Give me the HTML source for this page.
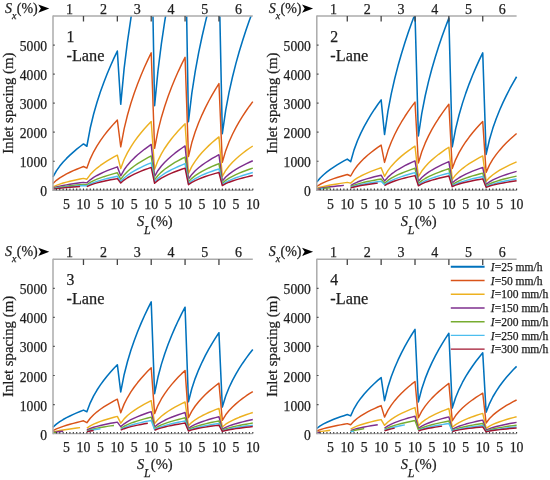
<!DOCTYPE html>
<html><head><meta charset="utf-8"><title>Inlet spacing</title>
<style>
html,body{margin:0;padding:0;background:#fff;}
body{width:550px;height:480px;overflow:hidden;font-family:"Liberation Serif",serif;}
svg{display:block;filter:blur(0.3px);}
text{font-family:"Liberation Serif",serif;stroke:#1e1e1e;stroke-width:0.25px;}
</style></head><body>
<svg width="550" height="480" viewBox="0 0 550 480" font-family="Liberation Serif, serif" fill="#1e1e1e">
<clipPath id="c0"><rect x="51" y="16" width="203.8" height="176.3"/></clipPath>
<g clip-path="url(#c0)" fill="none" stroke-linejoin="round" stroke-linecap="butt">
<path d="M53 176.94 L56.39 170.87 L59.77 166.11 L63.16 162.04 L66.55 158.42 L69.93 155.12 L73.32 152.06 L76.71 149.2 L80.09 146.5 L83.48 143.94 L86.86 146.26 L90.25 128.02 L93.64 114.02 L97.02 102.22 L100.41 91.82 L103.8 82.42 L107.18 73.78 L110.57 65.74 L113.96 58.18 L117.34 51.03 L120.73 104.31 L124.12 68.69 L127.5 41.36 L130.89 18.32 L134.27 -1.98 L137.66 -20.33 L141.05 -37.2 L144.43 -52.91 L147.82 -67.66 L151.21 -81.62 L154.59 105.76 L157.98 70.75 L161.37 43.88 L164.75 21.23 L168.14 1.27 L171.53 -16.77 L174.91 -33.36 L178.3 -48.8 L181.68 -63.31 L185.07 -77.02 L188.46 121.63 L191.84 93.18 L195.23 71.35 L198.62 52.95 L202 36.74 L205.39 22.08 L208.78 8.61 L212.16 -3.94 L215.55 -15.72 L218.94 -26.87 L222.32 133.65 L225.71 110.19 L229.09 92.18 L232.48 77 L235.87 63.63 L239.25 51.54 L242.64 40.42 L246.03 30.08 L249.41 20.36 L252.8 11.16" stroke="#0072BD" stroke-width="1.55"/>
<path d="M53 183.44 L56.39 180.33 L59.77 177.89 L63.16 175.8 L66.55 173.94 L69.93 172.25 L73.32 170.68 L76.71 169.21 L80.09 167.82 L83.48 166.51 L86.86 168.08 L90.25 158.87 L93.64 151.81 L97.02 145.85 L100.41 140.61 L103.8 135.86 L107.18 131.5 L110.57 127.44 L113.96 123.63 L117.34 120.02 L120.73 146.81 L124.12 128.8 L127.5 114.98 L130.89 103.32 L134.27 93.06 L137.66 83.78 L141.05 75.24 L144.43 67.3 L147.82 59.84 L151.21 52.78 L154.59 148.24 L157.98 130.81 L161.37 117.44 L164.75 106.17 L168.14 96.24 L171.53 87.26 L174.91 79.01 L178.3 71.32 L181.68 64.11 L185.07 57.28 L188.46 156.54 L191.84 142.56 L195.23 131.83 L198.62 122.79 L202 114.82 L205.39 107.61 L208.78 100.99 L212.16 94.82 L215.55 89.03 L218.94 83.55 L222.32 162.27 L225.71 150.65 L229.09 141.74 L232.48 134.23 L235.87 127.62 L239.25 121.63 L242.64 116.13 L246.03 111.01 L249.41 106.2 L252.8 101.65" stroke="#D95319" stroke-width="1.45"/>
<path d="M53 186.87 L56.39 185.31 L59.77 184.09 L63.16 183.05 L66.55 182.12 L69.93 181.27 L73.32 180.49 L76.71 179.76 L80.09 179.06 L83.48 178.4 L86.86 179.19 L90.25 174.59 L93.64 171.05 L97.02 168.08 L100.41 165.45 L103.8 163.08 L107.18 160.9 L110.57 158.87 L113.96 156.97 L117.34 155.16 L120.73 168.56 L124.12 159.55 L127.5 152.64 L130.89 146.81 L134.27 141.68 L137.66 137.04 L141.05 132.77 L144.43 128.8 L147.82 125.07 L151.21 121.54 L154.59 169.27 L157.98 160.56 L161.37 153.87 L164.75 148.24 L168.14 143.27 L171.53 138.78 L174.91 134.65 L178.3 130.81 L181.68 127.2 L185.07 123.79 L188.46 173.42 L191.84 166.43 L195.23 161.07 L198.62 156.54 L202 152.56 L205.39 148.96 L208.78 145.64 L212.16 142.56 L215.55 139.67 L218.94 136.93 L222.32 176.28 L225.71 170.48 L229.09 166.02 L232.48 162.27 L235.87 158.96 L239.25 155.97 L242.64 153.22 L246.03 150.65 L249.41 148.25 L252.8 145.98" stroke="#EDB120" stroke-width="1.45"/>
<path d="M53 188.01 L56.39 186.98 L59.77 186.16 L63.16 185.47 L66.55 184.85 L69.93 184.28 L73.32 183.76 L76.71 183.27 L80.09 182.81 L83.48 182.37 L86.86 182.89 L90.25 179.82 L93.64 177.47 L97.02 175.48 L100.41 173.74 L103.8 172.15 L107.18 170.7 L110.57 169.35 L113.96 168.08 L117.34 166.87 L120.73 175.8 L124.12 169.8 L127.5 165.19 L130.89 161.31 L134.27 157.89 L137.66 154.79 L141.05 151.95 L144.43 149.3 L147.82 146.81 L151.21 144.46 L154.59 176.28 L157.98 170.47 L161.37 166.01 L164.75 162.26 L168.14 158.95 L171.53 155.95 L174.91 153.2 L178.3 150.64 L181.68 148.24 L185.07 145.96 L188.46 179.05 L191.84 174.39 L195.23 170.81 L198.62 167.8 L202 165.14 L205.39 162.74 L208.78 160.53 L212.16 158.47 L215.55 156.54 L218.94 154.72 L222.32 180.96 L225.71 177.08 L229.09 174.11 L232.48 171.61 L235.87 169.41 L239.25 167.41 L242.64 165.58 L246.03 163.87 L249.41 162.27 L252.8 160.75" stroke="#7E2F8E" stroke-width="1.45"/>
<path d="M53 188.59 L56.39 187.81 L59.77 187.2 L63.16 186.67 L66.55 186.21 L69.93 185.79 L73.32 185.39 L76.71 185.03 L80.09 184.68 L83.48 184.35 L86.86 184.74 L90.25 182.44 L93.64 180.68 L97.02 179.19 L100.41 177.88 L103.8 176.69 L107.18 175.6 L110.57 174.59 L113.96 173.63 L117.34 172.73 L120.73 179.43 L124.12 174.92 L127.5 171.47 L130.89 168.56 L134.27 165.99 L137.66 163.67 L141.05 161.54 L144.43 159.55 L147.82 157.68 L151.21 155.92 L154.59 179.78 L157.98 175.43 L161.37 172.09 L164.75 169.27 L168.14 166.79 L171.53 164.54 L174.91 162.48 L178.3 160.56 L181.68 158.75 L185.07 157.05 L188.46 181.86 L191.84 178.37 L195.23 175.68 L198.62 173.42 L202 171.43 L205.39 169.63 L208.78 167.97 L212.16 166.43 L215.55 164.98 L218.94 163.61 L222.32 183.29 L225.71 180.39 L229.09 178.16 L232.48 176.28 L235.87 174.63 L239.25 173.13 L242.64 171.76 L246.03 170.48 L249.41 169.28 L252.8 168.14" stroke="#77AC30" stroke-width="1.45"/>
<path d="M53 188.93 L56.39 188.31 L59.77 187.82 L63.16 187.4 L66.55 187.03 L69.93 186.69 L73.32 186.38 L76.71 186.08 L80.09 185.8 L83.48 185.54 L86.86 185.86 L90.25 184.01 L93.64 182.6 L97.02 181.41 L100.41 180.36 L103.8 179.41 L107.18 178.54 L110.57 177.73 L113.96 176.97 L117.34 176.24 L120.73 181.6 L124.12 178 L127.5 175.24 L130.89 172.9 L134.27 170.85 L137.66 169 L141.05 167.29 L144.43 165.7 L147.82 164.21 L151.21 162.8 L154.59 181.89 L157.98 178.4 L161.37 175.73 L164.75 173.47 L168.14 171.49 L171.53 169.69 L174.91 168.04 L178.3 166.5 L181.68 165.06 L185.07 163.7 L188.46 183.55 L191.84 180.75 L195.23 178.61 L198.62 176.8 L202 175.2 L205.39 173.76 L208.78 172.44 L212.16 171.2 L215.55 170.05 L218.94 168.95 L222.32 184.69 L225.71 182.37 L229.09 180.59 L232.48 179.09 L235.87 177.76 L239.25 176.57 L242.64 175.47 L246.03 174.44 L249.41 173.48 L252.8 172.57" stroke="#4DBEEE" stroke-width="1.45"/>
<path d="M53 189.16 L56.39 188.64 L59.77 188.23 L63.16 187.88 L66.55 187.57 L69.93 187.29 L73.32 187.03 L76.71 186.79 L80.09 186.55M86.86 186.6 L90.25 185.06 L93.64 183.88 L97.02 182.89 L100.41 182.02 L103.8 181.23 L107.18 180.5 L110.57 179.82 L113.96 179.19 L117.34 178.59 L120.73 183.05 L124.12 180.05 L127.5 177.75 L130.89 175.8 L134.27 174.09 L137.66 172.55 L141.05 171.12 L144.43 169.8 L147.82 168.56 L151.21 167.38 L154.59 183.29 L157.98 180.39 L161.37 178.16 L164.75 176.28 L168.14 174.62 L171.53 173.13 L174.91 171.75 L178.3 170.47 L181.68 169.27 L185.07 168.13 L188.46 184.67 L191.84 182.34 L195.23 180.56 L198.62 179.05 L202 177.72 L205.39 176.52 L208.78 175.41 L212.16 174.39 L215.55 173.42 L218.94 172.51 L222.32 185.63 L225.71 183.69 L229.09 182.21 L232.48 180.96 L235.87 179.85 L239.25 178.86 L242.64 177.94 L246.03 177.08 L249.41 176.28 L252.8 175.53" stroke="#A2142F" stroke-width="1.45"/>
</g>
<path d="M53 15.4 V190.9" stroke="#ababab" stroke-width="1.5" fill="none"/>
<path d="M53 190.3 H252.8" stroke="#ababab" stroke-width="1.4" fill="none"/>
<path d="M53 16 H252.8" stroke="#ababab" stroke-width="1.4" fill="none"/>
<path d="M56.39 190.3V188.6M59.77 190.3V188.6M63.16 190.3V188.6M66.55 190.3V188.6M69.93 190.3V188.6M73.32 190.3V188.6M76.71 190.3V188.6M80.09 190.3V188.6M83.48 190.3V188.6M86.86 190.3V188.6M90.25 190.3V188.6M93.64 190.3V188.6M97.02 190.3V188.6M100.41 190.3V188.6M103.8 190.3V188.6M107.18 190.3V188.6M110.57 190.3V188.6M113.96 190.3V188.6M117.34 190.3V188.6M120.73 190.3V188.6M124.12 190.3V188.6M127.5 190.3V188.6M130.89 190.3V188.6M134.27 190.3V188.6M137.66 190.3V188.6M141.05 190.3V188.6M144.43 190.3V188.6M147.82 190.3V188.6M151.21 190.3V188.6M154.59 190.3V188.6M157.98 190.3V188.6M161.37 190.3V188.6M164.75 190.3V188.6M168.14 190.3V188.6M171.53 190.3V188.6M174.91 190.3V188.6M178.3 190.3V188.6M181.68 190.3V188.6M185.07 190.3V188.6M188.46 190.3V188.6M191.84 190.3V188.6M195.23 190.3V188.6M198.62 190.3V188.6M202 190.3V188.6M205.39 190.3V188.6M208.78 190.3V188.6M212.16 190.3V188.6M215.55 190.3V188.6M218.94 190.3V188.6M222.32 190.3V188.6M225.71 190.3V188.6M229.09 190.3V188.6M232.48 190.3V188.6M235.87 190.3V188.6M239.25 190.3V188.6M242.64 190.3V188.6M246.03 190.3V188.6M249.41 190.3V188.6M252.8 190.3V188.6" stroke="#333" stroke-width="1.1" fill="none"/>
<path d="M83.48 16V21.6M117.34 16V21.6M151.21 16V21.6M185.07 16V21.6M218.94 16V21.6" stroke="#444" stroke-width="1.3" fill="none"/>
<path d="M53 161.25H54.8M53 132.2H54.8M53 103.15H54.8M53 74.1H54.8M53 45.05H54.8" stroke="#555" stroke-width="1.2" fill="none"/>
<text x="47" y="196.3" text-anchor="end" font-size="13.6">0</text>
<text x="47" y="167.25" text-anchor="end" font-size="13.6">1000</text>
<text x="47" y="138.2" text-anchor="end" font-size="13.6">2000</text>
<text x="47" y="109.15" text-anchor="end" font-size="13.6">3000</text>
<text x="47" y="80.1" text-anchor="end" font-size="13.6">4000</text>
<text x="47" y="51.05" text-anchor="end" font-size="13.6">5000</text>
<text x="66.55" y="208.8" text-anchor="middle" font-size="13.8">5</text>
<text x="83.48" y="208.8" text-anchor="middle" font-size="13.8">10</text>
<text x="100.41" y="208.8" text-anchor="middle" font-size="13.8">5</text>
<text x="117.34" y="208.8" text-anchor="middle" font-size="13.8">10</text>
<text x="134.27" y="208.8" text-anchor="middle" font-size="13.8">5</text>
<text x="151.21" y="208.8" text-anchor="middle" font-size="13.8">10</text>
<text x="168.14" y="208.8" text-anchor="middle" font-size="13.8">5</text>
<text x="185.07" y="208.8" text-anchor="middle" font-size="13.8">10</text>
<text x="202" y="208.8" text-anchor="middle" font-size="13.8">5</text>
<text x="218.94" y="208.8" text-anchor="middle" font-size="13.8">10</text>
<text x="235.87" y="208.8" text-anchor="middle" font-size="13.8">5</text>
<text x="252.8" y="208.8" text-anchor="middle" font-size="13.8">10</text>
<text x="69.6" y="13.6" text-anchor="middle" font-size="14">1</text>
<text x="103.38" y="13.6" text-anchor="middle" font-size="14">2</text>
<text x="137.16" y="13.6" text-anchor="middle" font-size="14">3</text>
<text x="170.94" y="13.6" text-anchor="middle" font-size="14">4</text>
<text x="204.72" y="13.6" text-anchor="middle" font-size="14">5</text>
<text x="238.5" y="13.6" text-anchor="middle" font-size="14">6</text>
<text x="5" y="12.5" font-size="14"><tspan font-style="italic">S</tspan><tspan font-style="italic" font-size="10" dy="6.4">x</tspan><tspan dy="-6.4" dx="0.3">(%)</tspan></text>
<path d="M38.2 4.5L49.3 8.5L38.2 12.7L40.9 8.5Z" fill="#000"/>
<text transform="translate(13.2 103.15) rotate(-90)" text-anchor="middle" font-size="14.8">Inlet spacing (m)</text>
<text x="136.9" y="225.6" font-size="14.3"><tspan font-style="italic">S</tspan><tspan font-style="italic" font-size="12" dy="7.9">L</tspan><tspan dy="-7.9" dx="0.1" font-size="14.6">(%)</tspan></text>
<text x="66.5" y="41.9" font-size="15.8">1</text>
<text x="66.5" y="60.7" font-size="16.3">-Lane</text>
<clipPath id="c1"><rect x="314.8" y="16" width="203.8" height="176.3"/></clipPath>
<g clip-path="url(#c1)" fill="none" stroke-linejoin="round" stroke-linecap="butt">
<path d="M316.8 182.08 L320.19 178.01 L323.57 174.76 L326.96 171.94 L330.35 169.4 L333.73 167.07 L337.12 164.9 L340.51 162.86 L343.89 160.92 L347.28 159.07 L350.66 161.71 L354.05 149.87 L357.44 140.79 L360.82 133.13 L364.21 126.38 L367.6 120.28 L370.98 114.67 L374.37 109.45 L377.76 104.54 L381.14 99.91 L384.53 134.52 L387.92 111.42 L391.3 93.69 L394.69 78.75 L398.07 65.58 L401.46 53.68 L404.85 42.73 L408.23 32.54 L411.62 22.97 L415.01 13.92 L418.39 135.86 L421.78 113.31 L425.17 96.01 L428.55 81.42 L431.94 68.57 L435.33 56.95 L438.71 46.27 L442.1 36.32 L445.48 26.98 L448.87 18.15 L452.26 146.84 L455.64 128.84 L459.03 115.03 L462.42 103.38 L465.8 93.12 L469.19 83.85 L472.58 75.32 L475.96 67.38 L479.35 59.92 L482.74 52.87 L486.12 154.39 L489.51 139.52 L492.89 128.11 L496.28 118.49 L499.67 110.01 L503.05 102.35 L506.44 95.3 L509.83 88.74 L513.21 82.58 L516.6 76.76" stroke="#0072BD" stroke-width="1.55"/>
<path d="M316.8 186.32 L320.19 184.27 L323.57 182.61 L326.96 181.16 L330.35 179.85 L333.73 178.65 L337.12 177.52 L340.51 176.45 L343.89 175.44 L347.28 174.47 L350.66 176.01 L354.05 170.09 L357.44 165.54 L360.82 161.71 L364.21 158.34 L367.6 155.29 L370.98 152.49 L374.37 149.87 L377.76 147.42 L381.14 145.1 L384.53 162.41 L387.92 150.86 L391.3 142 L394.69 134.52 L398.07 127.94 L401.46 121.99 L404.85 116.52 L408.23 111.42 L411.62 106.64 L415.01 102.11 L418.39 163.08 L421.78 151.81 L425.17 143.15 L428.55 135.86 L431.94 129.43 L435.33 123.63 L438.71 118.28 L442.1 113.31 L445.48 108.64 L448.87 104.22 L452.26 168.57 L455.64 159.57 L459.03 152.66 L462.42 146.84 L465.8 141.71 L469.19 137.07 L472.58 132.81 L475.96 128.84 L479.35 125.11 L482.74 121.59 L486.12 172.35 L489.51 164.91 L492.89 159.2 L496.28 154.39 L499.67 150.16 L503.05 146.32 L506.44 142.8 L509.83 139.52 L513.21 136.44 L516.6 133.53" stroke="#D95319" stroke-width="1.45"/>
<path d="M316.8 188.31 L320.19 187.28 L323.57 186.45 L326.96 185.73 L330.35 185.08 L333.73 184.47 L337.12 183.91 L340.51 183.38 L343.89 182.87 L347.28 182.38 L350.66 183.15 L354.05 180.19 L357.44 177.92 L360.82 176.01 L364.21 174.32 L367.6 172.8 L370.98 171.39 L374.37 170.09 L377.76 168.86 L381.14 167.7 L384.53 176.36 L387.92 170.58 L391.3 166.15 L394.69 162.41 L398.07 159.12 L401.46 156.14 L404.85 153.41 L408.23 150.86 L411.62 148.47 L415.01 146.21 L418.39 176.69 L421.78 171.05 L425.17 166.73 L428.55 163.08 L431.94 159.87 L435.33 156.96 L438.71 154.29 L442.1 151.81 L445.48 149.47 L448.87 147.26 L452.26 179.44 L455.64 174.93 L459.03 171.48 L462.42 168.57 L465.8 166.01 L469.19 163.69 L472.58 161.55 L475.96 159.57 L479.35 157.71 L482.74 155.94 L486.12 181.32 L489.51 177.61 L492.89 174.75 L496.28 172.35 L499.67 170.23 L503.05 168.31 L506.44 166.55 L509.83 164.91 L513.21 163.37 L516.6 161.91" stroke="#EDB120" stroke-width="1.45"/>
<path d="M316.8 188.97 L320.19 188.29 L323.57 187.74 L326.96 187.25 L330.35 186.82 L333.73 186.42 L337.12 186.04 L340.51 185.68 L343.89 185.35M350.66 185.54 L354.05 183.56 L357.44 182.05 L360.82 180.77 L364.21 179.65 L367.6 178.63 L370.98 177.7 L374.37 176.82 L377.76 176.01 L381.14 175.23 L384.53 181 L387.92 177.15 L391.3 174.2 L394.69 171.71 L398.07 169.51 L401.46 167.53 L404.85 165.71 L408.23 164.01 L411.62 162.41 L415.01 160.9 L418.39 181.23 L421.78 177.47 L425.17 174.58 L428.55 172.15 L431.94 170.01 L435.33 168.08 L438.71 166.29 L442.1 164.64 L445.48 163.08 L448.87 161.61 L452.26 183.06 L455.64 180.06 L459.03 177.75 L462.42 175.81 L465.8 174.1 L469.19 172.56 L472.58 171.14 L475.96 169.81 L479.35 168.57 L482.74 167.4 L486.12 184.32 L489.51 181.84 L492.89 179.93 L496.28 178.33 L499.67 176.92 L503.05 175.64 L506.44 174.47 L509.83 173.37 L513.21 172.35 L516.6 171.38" stroke="#7E2F8E" stroke-width="1.45"/>
<path d="M316.8 189.31 L320.19 188.79 L323.57 188.38 L326.96 188.02 L330.35 187.69M350.66 186.73 L354.05 185.25 L357.44 184.11 L360.82 183.15 L364.21 182.31 L367.6 181.55 L370.98 180.85 L374.37 180.19 L377.76 179.58 L381.14 179 L384.53 183.33 L387.92 180.44 L391.3 178.22 L394.69 176.36 L398.07 174.71 L401.46 173.22 L404.85 171.85 L408.23 170.58 L411.62 169.38 L415.01 168.25 L418.39 183.5 L421.78 180.68 L425.17 178.51 L428.55 176.69 L431.94 175.08 L435.33 173.63 L438.71 172.3 L442.1 171.05 L445.48 169.89 L448.87 168.78 L452.26 184.87 L455.64 182.62 L459.03 180.89 L462.42 179.44 L465.8 178.15 L469.19 176.99 L472.58 175.93 L475.96 174.93 L479.35 174 L482.74 173.12 L486.12 185.81 L489.51 183.95 L492.89 182.53 L496.28 181.32 L499.67 180.26 L503.05 179.31 L506.44 178.43 L509.83 177.61 L513.21 176.84 L516.6 176.11" stroke="#77AC30" stroke-width="1.45"/>
<path d="M316.8 189.5 L320.19 189.09 L323.57 188.76M350.66 187.44 L354.05 186.26 L357.44 185.35 L360.82 184.58 L364.21 183.91 L367.6 183.3 L370.98 182.74 L374.37 182.21 L377.76 181.72 L381.14 181.26 L384.53 184.72 L387.92 182.41 L391.3 180.64 L394.69 179.14 L398.07 177.83 L401.46 176.64 L404.85 175.54 L408.23 174.52 L411.62 173.57 L415.01 172.66 L418.39 184.86 L421.78 182.6 L425.17 180.87 L428.55 179.41 L431.94 178.13 L435.33 176.97 L438.71 175.9 L442.1 174.9 L445.48 173.97 L448.87 173.08 L452.26 185.95 L455.64 184.15 L459.03 182.77 L462.42 181.61 L465.8 180.58 L469.19 179.65 L472.58 178.8 L475.96 178.01 L479.35 177.26 L482.74 176.56 L486.12 186.71 L489.51 185.22 L492.89 184.08 L496.28 183.12 L499.67 182.27 L503.05 181.5 L506.44 180.8 L509.83 180.14 L513.21 179.53 L516.6 178.95" stroke="#4DBEEE" stroke-width="1.45"/>
<path d="M316.8 189.64 L320.19 189.29M350.66 187.92 L354.05 186.93 L357.44 186.17 L360.82 185.54 L364.21 184.97 L367.6 184.47 L370.98 184 L374.37 183.56 L377.76 183.15M384.53 185.65 L387.92 183.73 L391.3 182.25 L394.69 181 L398.07 179.91 L401.46 178.91 L404.85 178 L408.23 177.15 L411.62 176.36 L415.01 175.6 L418.39 185.76 L421.78 183.88 L425.17 182.44 L428.55 181.23 L431.94 180.16 L435.33 179.19 L438.71 178.3 L442.1 177.47 L445.48 176.69 L448.87 175.95 L452.26 186.68 L455.64 185.18 L459.03 184.03 L462.42 183.06 L465.8 182.2 L469.19 181.43 L472.58 180.72 L475.96 180.06 L479.35 179.44 L482.74 178.85 L486.12 187.31 L489.51 186.07 L492.89 185.12 L496.28 184.32 L499.67 183.61 L503.05 182.97 L506.44 182.38 L509.83 181.84 L513.21 181.32 L516.6 180.84" stroke="#A2142F" stroke-width="1.45"/>
</g>
<path d="M316.8 15.4 V190.9" stroke="#ababab" stroke-width="1.5" fill="none"/>
<path d="M316.8 190.3 H516.6" stroke="#ababab" stroke-width="1.4" fill="none"/>
<path d="M316.8 16 H516.6" stroke="#ababab" stroke-width="1.4" fill="none"/>
<path d="M320.19 190.3V188.6M323.57 190.3V188.6M326.96 190.3V188.6M330.35 190.3V188.6M333.73 190.3V188.6M337.12 190.3V188.6M340.51 190.3V188.6M343.89 190.3V188.6M347.28 190.3V188.6M350.66 190.3V188.6M354.05 190.3V188.6M357.44 190.3V188.6M360.82 190.3V188.6M364.21 190.3V188.6M367.6 190.3V188.6M370.98 190.3V188.6M374.37 190.3V188.6M377.76 190.3V188.6M381.14 190.3V188.6M384.53 190.3V188.6M387.92 190.3V188.6M391.3 190.3V188.6M394.69 190.3V188.6M398.07 190.3V188.6M401.46 190.3V188.6M404.85 190.3V188.6M408.23 190.3V188.6M411.62 190.3V188.6M415.01 190.3V188.6M418.39 190.3V188.6M421.78 190.3V188.6M425.17 190.3V188.6M428.55 190.3V188.6M431.94 190.3V188.6M435.33 190.3V188.6M438.71 190.3V188.6M442.1 190.3V188.6M445.48 190.3V188.6M448.87 190.3V188.6M452.26 190.3V188.6M455.64 190.3V188.6M459.03 190.3V188.6M462.42 190.3V188.6M465.8 190.3V188.6M469.19 190.3V188.6M472.58 190.3V188.6M475.96 190.3V188.6M479.35 190.3V188.6M482.74 190.3V188.6M486.12 190.3V188.6M489.51 190.3V188.6M492.89 190.3V188.6M496.28 190.3V188.6M499.67 190.3V188.6M503.05 190.3V188.6M506.44 190.3V188.6M509.83 190.3V188.6M513.21 190.3V188.6M516.6 190.3V188.6" stroke="#333" stroke-width="1.1" fill="none"/>
<path d="M347.28 16V21.6M381.14 16V21.6M415.01 16V21.6M448.87 16V21.6M482.74 16V21.6" stroke="#444" stroke-width="1.3" fill="none"/>
<path d="M316.8 161.25H318.6M316.8 132.2H318.6M316.8 103.15H318.6M316.8 74.1H318.6M316.8 45.05H318.6" stroke="#555" stroke-width="1.2" fill="none"/>
<text x="310.8" y="196.3" text-anchor="end" font-size="13.6">0</text>
<text x="310.8" y="167.25" text-anchor="end" font-size="13.6">1000</text>
<text x="310.8" y="138.2" text-anchor="end" font-size="13.6">2000</text>
<text x="310.8" y="109.15" text-anchor="end" font-size="13.6">3000</text>
<text x="310.8" y="80.1" text-anchor="end" font-size="13.6">4000</text>
<text x="310.8" y="51.05" text-anchor="end" font-size="13.6">5000</text>
<text x="330.35" y="208.8" text-anchor="middle" font-size="13.8">5</text>
<text x="347.28" y="208.8" text-anchor="middle" font-size="13.8">10</text>
<text x="364.21" y="208.8" text-anchor="middle" font-size="13.8">5</text>
<text x="381.14" y="208.8" text-anchor="middle" font-size="13.8">10</text>
<text x="398.07" y="208.8" text-anchor="middle" font-size="13.8">5</text>
<text x="415.01" y="208.8" text-anchor="middle" font-size="13.8">10</text>
<text x="431.94" y="208.8" text-anchor="middle" font-size="13.8">5</text>
<text x="448.87" y="208.8" text-anchor="middle" font-size="13.8">10</text>
<text x="465.8" y="208.8" text-anchor="middle" font-size="13.8">5</text>
<text x="482.74" y="208.8" text-anchor="middle" font-size="13.8">10</text>
<text x="499.67" y="208.8" text-anchor="middle" font-size="13.8">5</text>
<text x="516.6" y="208.8" text-anchor="middle" font-size="13.8">10</text>
<text x="333.4" y="13.6" text-anchor="middle" font-size="14">1</text>
<text x="367.18" y="13.6" text-anchor="middle" font-size="14">2</text>
<text x="400.96" y="13.6" text-anchor="middle" font-size="14">3</text>
<text x="434.74" y="13.6" text-anchor="middle" font-size="14">4</text>
<text x="468.52" y="13.6" text-anchor="middle" font-size="14">5</text>
<text x="502.3" y="13.6" text-anchor="middle" font-size="14">6</text>
<text x="268.8" y="12.5" font-size="14"><tspan font-style="italic">S</tspan><tspan font-style="italic" font-size="10" dy="6.4">x</tspan><tspan dy="-6.4" dx="0.3">(%)</tspan></text>
<path d="M302 4.5L313.1 8.5L302 12.7L304.7 8.5Z" fill="#000"/>
<text transform="translate(277 103.15) rotate(-90)" text-anchor="middle" font-size="14.8">Inlet spacing (m)</text>
<text x="400.7" y="225.6" font-size="14.3"><tspan font-style="italic">S</tspan><tspan font-style="italic" font-size="12" dy="7.9">L</tspan><tspan dy="-7.9" dx="0.1" font-size="14.6">(%)</tspan></text>
<text x="330.3" y="41.9" font-size="15.8">2</text>
<text x="330.3" y="60.7" font-size="16.3">-Lane</text>
<clipPath id="c2"><rect x="51" y="259.3" width="203.8" height="176.3"/></clipPath>
<g clip-path="url(#c2)" fill="none" stroke-linejoin="round" stroke-linecap="butt">
<path d="M53 427.12 L56.39 424.06 L59.77 421.63 L63.16 419.54 L66.55 417.67 L69.93 415.96 L73.32 414.37 L76.71 412.88 L80.09 411.47 L83.48 410.13 L86.86 411.81 L90.25 402.79 L93.64 395.86 L97.02 390.03 L100.41 384.88 L103.8 380.23 L107.18 375.96 L110.57 371.98 L113.96 368.24 L117.34 364.7 L120.73 391.94 L124.12 374.69 L127.5 361.45 L130.89 350.28 L134.27 340.45 L137.66 331.56 L141.05 323.38 L144.43 315.77 L147.82 308.63 L151.21 301.87 L154.59 393.63 L157.98 377.07 L161.37 364.37 L164.75 353.65 L168.14 344.22 L171.53 335.69 L174.91 327.84 L178.3 320.54 L181.68 313.68 L185.07 307.19 L188.46 401.7 L191.84 388.49 L195.23 378.35 L198.62 369.81 L202 362.28 L205.39 355.47 L208.78 349.21 L212.16 343.38 L215.55 337.91 L218.94 332.73 L222.32 406.99 L225.71 395.97 L229.09 387.51 L232.48 380.38 L235.87 374.1 L239.25 368.42 L242.64 363.2 L246.03 358.34 L249.41 353.77 L252.8 349.45" stroke="#0072BD" stroke-width="1.55"/>
<path d="M53 430.55 L56.39 428.9 L59.77 427.56 L63.16 426.37 L66.55 425.3 L69.93 424.3 L73.32 423.36 L76.71 422.48 L80.09 421.63 L83.48 420.82 L86.86 422.71 L90.25 418.19 L93.64 414.73 L97.02 411.81 L100.41 409.24 L103.8 406.92 L107.18 404.78 L110.57 402.79 L113.96 400.92 L117.34 399.15 L120.73 412.77 L124.12 404.14 L127.5 397.52 L130.89 391.94 L134.27 387.03 L137.66 382.58 L141.05 378.49 L144.43 374.69 L147.82 371.11 L151.21 367.73 L154.59 413.61 L157.98 405.33 L161.37 398.98 L164.75 393.63 L168.14 388.91 L171.53 384.64 L174.91 380.72 L178.3 377.07 L181.68 373.64 L185.07 370.4 L188.46 417.65 L191.84 411.05 L195.23 405.98 L198.62 401.7 L202 397.94 L205.39 394.53 L208.78 391.4 L212.16 388.49 L215.55 385.75 L218.94 383.17 L222.32 420.3 L225.71 414.78 L229.09 410.56 L232.48 406.99 L235.87 403.85 L239.25 401.01 L242.64 398.4 L246.03 395.97 L249.41 393.69 L252.8 391.53" stroke="#D95319" stroke-width="1.45"/>
<path d="M53 432.07 L56.39 431.25 L59.77 430.58 L63.16 429.99 L66.55 429.45 L69.93 428.95 L73.32 428.48 L76.71 428.04 L80.09 427.61M86.86 428.15 L90.25 425.9 L93.64 424.17 L97.02 422.71 L100.41 421.42 L103.8 420.26 L107.18 419.19 L110.57 418.19 L113.96 417.26 L117.34 416.38 L120.73 423.19 L124.12 418.87 L127.5 415.56 L130.89 412.77 L134.27 410.31 L137.66 408.09 L141.05 406.05 L144.43 404.14 L147.82 402.36 L151.21 400.67 L154.59 423.61 L157.98 419.47 L161.37 416.29 L164.75 413.61 L168.14 411.25 L171.53 409.12 L174.91 407.16 L178.3 405.33 L181.68 403.62 L185.07 402 L188.46 425.63 L191.84 422.32 L195.23 419.79 L198.62 417.65 L202 415.77 L205.39 414.07 L208.78 412.5 L212.16 411.05 L215.55 409.68 L218.94 408.38 L222.32 426.95 L225.71 424.19 L229.09 422.08 L232.48 420.3 L235.87 418.72 L239.25 417.3 L242.64 416 L246.03 414.78 L249.41 413.64 L252.8 412.56" stroke="#EDB120" stroke-width="1.45"/>
<path d="M53 432.58 L56.39 432.03 L59.77 431.59 L63.16 431.19M86.86 429.97 L90.25 428.46 L93.64 427.31 L97.02 426.34 L100.41 425.48 L103.8 424.71 L107.18 423.99 L110.57 423.33 L113.96 422.71 L117.34 422.12 L120.73 426.66 L124.12 423.78 L127.5 421.57 L130.89 419.71 L134.27 418.08 L137.66 416.59 L141.05 415.23 L144.43 413.96 L147.82 412.77 L151.21 411.64 L154.59 426.94 L157.98 424.18 L161.37 422.06 L164.75 420.28 L168.14 418.7 L171.53 417.28 L174.91 415.97 L178.3 414.76 L181.68 413.61 L185.07 412.53 L188.46 428.28 L191.84 426.08 L195.23 424.39 L198.62 422.97 L202 421.71 L205.39 420.58 L208.78 419.53 L212.16 418.56 L215.55 417.65 L218.94 416.79 L222.32 429.17 L225.71 427.33 L229.09 425.92 L232.48 424.73 L235.87 423.68 L239.25 422.74 L242.64 421.87 L246.03 421.06 L249.41 420.3 L252.8 419.58" stroke="#7E2F8E" stroke-width="1.45"/>
<path d="M53 432.84 L56.39 432.43M86.86 430.88 L90.25 429.75 L93.64 428.88 L97.02 428.15 L100.41 427.51 L103.8 426.93 L107.18 426.39 L110.57 425.9 L113.96 425.43M120.73 428.39 L124.12 426.24 L127.5 424.58 L130.89 423.19 L134.27 421.96 L137.66 420.84 L141.05 419.82 L144.43 418.87 L147.82 417.98 L151.21 417.13 L154.59 428.6 L157.98 426.53 L161.37 424.95 L164.75 423.61 L168.14 422.43 L171.53 421.36 L174.91 420.38 L178.3 419.47 L181.68 418.61 L185.07 417.8 L188.46 429.61 L191.84 427.96 L195.23 426.69 L198.62 425.63 L202 424.68 L205.39 423.83 L208.78 423.05 L212.16 422.32 L215.55 421.64 L218.94 420.99 L222.32 430.27 L225.71 428.9 L229.09 427.84 L232.48 426.95 L235.87 426.16 L239.25 425.45 L242.64 424.8 L246.03 424.19 L249.41 423.62 L252.8 423.08" stroke="#77AC30" stroke-width="1.45"/>
<path d="M86.86 431.42 L90.25 430.52 L93.64 429.83 L97.02 429.24 L100.41 428.73M120.73 429.43 L124.12 427.71 L127.5 426.38 L130.89 425.27 L134.27 424.29 L137.66 423.4 L141.05 422.58 L144.43 421.82 L147.82 421.1 L151.21 420.43 L154.59 429.6 L157.98 427.95 L161.37 426.68 L164.75 425.61 L168.14 424.66 L171.53 423.81 L174.91 423.02 L178.3 422.29 L181.68 421.61 L185.07 420.96 L188.46 430.41 L191.84 429.09 L195.23 428.08 L198.62 427.22 L202 426.47 L205.39 425.79 L208.78 425.16 L212.16 424.58 L215.55 424.03 L218.94 423.51 L222.32 430.94 L225.71 429.84 L229.09 428.99 L232.48 428.28 L235.87 427.65 L239.25 427.08 L242.64 426.56 L246.03 426.07 L249.41 425.62 L252.8 425.19" stroke="#4DBEEE" stroke-width="1.45"/>
<path d="M86.86 431.78 L90.25 431.03 L93.64 430.46M120.73 430.13 L124.12 428.69 L127.5 427.59 L130.89 426.66 L134.27 425.84 L137.66 425.1 L141.05 424.42 L144.43 423.78 L147.82 423.19M154.59 430.27 L157.98 428.89 L161.37 427.83 L164.75 426.94 L168.14 426.15 L171.53 425.44 L174.91 424.79 L178.3 424.18 L181.68 423.61 L185.07 423.07 L188.46 430.94 L191.84 429.84 L195.23 429 L198.62 428.28 L202 427.66 L205.39 427.09 L208.78 426.57 L212.16 426.08 L215.55 425.63 L218.94 425.19 L222.32 431.38 L225.71 430.46 L229.09 429.76 L232.48 429.17 L235.87 428.64 L239.25 428.17 L242.64 427.73 L246.03 427.33 L249.41 426.95 L252.8 426.59" stroke="#A2142F" stroke-width="1.45"/>
</g>
<path d="M53 258.7 V434.2" stroke="#ababab" stroke-width="1.5" fill="none"/>
<path d="M53 433.6 H252.8" stroke="#ababab" stroke-width="1.4" fill="none"/>
<path d="M53 259.3 H252.8" stroke="#ababab" stroke-width="1.4" fill="none"/>
<path d="M56.39 433.6V431.9M59.77 433.6V431.9M63.16 433.6V431.9M66.55 433.6V431.9M69.93 433.6V431.9M73.32 433.6V431.9M76.71 433.6V431.9M80.09 433.6V431.9M83.48 433.6V431.9M86.86 433.6V431.9M90.25 433.6V431.9M93.64 433.6V431.9M97.02 433.6V431.9M100.41 433.6V431.9M103.8 433.6V431.9M107.18 433.6V431.9M110.57 433.6V431.9M113.96 433.6V431.9M117.34 433.6V431.9M120.73 433.6V431.9M124.12 433.6V431.9M127.5 433.6V431.9M130.89 433.6V431.9M134.27 433.6V431.9M137.66 433.6V431.9M141.05 433.6V431.9M144.43 433.6V431.9M147.82 433.6V431.9M151.21 433.6V431.9M154.59 433.6V431.9M157.98 433.6V431.9M161.37 433.6V431.9M164.75 433.6V431.9M168.14 433.6V431.9M171.53 433.6V431.9M174.91 433.6V431.9M178.3 433.6V431.9M181.68 433.6V431.9M185.07 433.6V431.9M188.46 433.6V431.9M191.84 433.6V431.9M195.23 433.6V431.9M198.62 433.6V431.9M202 433.6V431.9M205.39 433.6V431.9M208.78 433.6V431.9M212.16 433.6V431.9M215.55 433.6V431.9M218.94 433.6V431.9M222.32 433.6V431.9M225.71 433.6V431.9M229.09 433.6V431.9M232.48 433.6V431.9M235.87 433.6V431.9M239.25 433.6V431.9M242.64 433.6V431.9M246.03 433.6V431.9M249.41 433.6V431.9M252.8 433.6V431.9" stroke="#333" stroke-width="1.1" fill="none"/>
<path d="M83.48 259.3V264.9M117.34 259.3V264.9M151.21 259.3V264.9M185.07 259.3V264.9M218.94 259.3V264.9" stroke="#444" stroke-width="1.3" fill="none"/>
<path d="M53 404.55H54.8M53 375.5H54.8M53 346.45H54.8M53 317.4H54.8M53 288.35H54.8" stroke="#555" stroke-width="1.2" fill="none"/>
<text x="47" y="439.6" text-anchor="end" font-size="13.6">0</text>
<text x="47" y="410.55" text-anchor="end" font-size="13.6">1000</text>
<text x="47" y="381.5" text-anchor="end" font-size="13.6">2000</text>
<text x="47" y="352.45" text-anchor="end" font-size="13.6">3000</text>
<text x="47" y="323.4" text-anchor="end" font-size="13.6">4000</text>
<text x="47" y="294.35" text-anchor="end" font-size="13.6">5000</text>
<text x="66.55" y="452.1" text-anchor="middle" font-size="13.8">5</text>
<text x="83.48" y="452.1" text-anchor="middle" font-size="13.8">10</text>
<text x="100.41" y="452.1" text-anchor="middle" font-size="13.8">5</text>
<text x="117.34" y="452.1" text-anchor="middle" font-size="13.8">10</text>
<text x="134.27" y="452.1" text-anchor="middle" font-size="13.8">5</text>
<text x="151.21" y="452.1" text-anchor="middle" font-size="13.8">10</text>
<text x="168.14" y="452.1" text-anchor="middle" font-size="13.8">5</text>
<text x="185.07" y="452.1" text-anchor="middle" font-size="13.8">10</text>
<text x="202" y="452.1" text-anchor="middle" font-size="13.8">5</text>
<text x="218.94" y="452.1" text-anchor="middle" font-size="13.8">10</text>
<text x="235.87" y="452.1" text-anchor="middle" font-size="13.8">5</text>
<text x="252.8" y="452.1" text-anchor="middle" font-size="13.8">10</text>
<text x="69.6" y="256.9" text-anchor="middle" font-size="14">1</text>
<text x="103.38" y="256.9" text-anchor="middle" font-size="14">2</text>
<text x="137.16" y="256.9" text-anchor="middle" font-size="14">3</text>
<text x="170.94" y="256.9" text-anchor="middle" font-size="14">4</text>
<text x="204.72" y="256.9" text-anchor="middle" font-size="14">5</text>
<text x="238.5" y="256.9" text-anchor="middle" font-size="14">6</text>
<text x="5" y="255.8" font-size="14"><tspan font-style="italic">S</tspan><tspan font-style="italic" font-size="10" dy="6.4">x</tspan><tspan dy="-6.4" dx="0.3">(%)</tspan></text>
<path d="M38.2 247.8L49.3 251.8L38.2 256L40.9 251.8Z" fill="#000"/>
<text transform="translate(13.2 346.45) rotate(-90)" text-anchor="middle" font-size="14.8">Inlet spacing (m)</text>
<text x="136.9" y="468.9" font-size="14.3"><tspan font-style="italic">S</tspan><tspan font-style="italic" font-size="12" dy="7.9">L</tspan><tspan dy="-7.9" dx="0.1" font-size="14.6">(%)</tspan></text>
<text x="66.5" y="285.2" font-size="15.8">3</text>
<text x="66.5" y="304" font-size="16.3">-Lane</text>
<clipPath id="c3"><rect x="314.8" y="259.3" width="203.8" height="176.3"/></clipPath>
<g clip-path="url(#c3)" fill="none" stroke-linejoin="round" stroke-linecap="butt">
<path d="M316.8 428.37 L320.19 425.89 L323.57 423.92 L326.96 422.22 L330.35 420.7 L333.73 419.31 L337.12 418.02 L340.51 416.81 L343.89 415.66 L347.28 414.57 L350.66 415.88 L354.05 408.54 L357.44 402.91 L360.82 398.16 L364.21 393.98 L367.6 390.19 L370.98 386.72 L374.37 383.48 L377.76 380.44 L381.14 377.56 L384.53 400.66 L387.92 387.01 L391.3 376.54 L394.69 367.71 L398.07 359.94 L401.46 352.91 L404.85 346.44 L408.23 340.42 L411.62 334.77 L415.01 329.43 L418.39 401.88 L421.78 388.74 L425.17 378.65 L428.55 370.15 L431.94 362.67 L435.33 355.9 L438.71 349.67 L442.1 343.87 L445.48 338.43 L448.87 333.28 L452.26 408.04 L455.64 397.45 L459.03 389.32 L462.42 382.47 L465.8 376.44 L469.19 370.98 L472.58 365.96 L475.96 361.29 L479.35 356.91 L482.74 352.76 L486.12 412.34 L489.51 403.53 L492.89 396.77 L496.28 391.07 L499.67 386.05 L503.05 381.51 L506.44 377.34 L509.83 373.45 L513.21 369.81 L516.6 366.36" stroke="#0072BD" stroke-width="1.55"/>
<path d="M316.8 430.99 L320.19 429.69 L323.57 428.65 L326.96 427.75 L330.35 426.94 L333.73 426.19 L337.12 425.5 L340.51 424.85 L343.89 424.23 L347.28 423.64 L350.66 424.74 L354.05 421.07 L357.44 418.25 L360.82 415.88 L364.21 413.79 L367.6 411.9 L370.98 410.16 L374.37 408.54 L377.76 407.02 L381.14 405.58 L384.53 417.13 L387.92 410.31 L391.3 405.07 L394.69 400.66 L398.07 396.77 L401.46 393.25 L404.85 390.02 L408.23 387.01 L411.62 384.19 L415.01 381.51 L418.39 417.74 L421.78 411.17 L425.17 406.13 L428.55 401.88 L431.94 398.13 L435.33 394.75 L438.71 391.63 L442.1 388.74 L445.48 386.02 L448.87 383.44 L452.26 420.82 L455.64 415.52 L459.03 411.46 L462.42 408.04 L465.8 405.02 L469.19 402.29 L472.58 399.78 L475.96 397.45 L479.35 395.25 L482.74 393.18 L486.12 422.97 L489.51 418.56 L492.89 415.18 L496.28 412.34 L499.67 409.83 L503.05 407.56 L506.44 405.47 L509.83 403.53 L513.21 401.7 L516.6 399.98" stroke="#D95319" stroke-width="1.45"/>
<path d="M316.8 432.29 L320.19 431.64 L323.57 431.12 L326.96 430.67 L330.35 430.27M350.66 429.17 L354.05 427.33 L357.44 425.93 L360.82 424.74 L364.21 423.69 L367.6 422.75 L370.98 421.88 L374.37 421.07 L377.76 420.31 L381.14 419.59 L384.53 425.36 L387.92 421.95 L391.3 419.34 L394.69 417.13 L398.07 415.18 L401.46 413.43 L404.85 411.81 L408.23 410.31 L411.62 408.89 L415.01 407.56 L418.39 425.67 L421.78 422.38 L425.17 419.86 L428.55 417.74 L431.94 415.87 L435.33 414.17 L438.71 412.62 L442.1 411.17 L445.48 409.81 L448.87 408.52 L452.26 427.21 L455.64 424.56 L459.03 422.53 L462.42 420.82 L465.8 419.31 L469.19 417.95 L472.58 416.69 L475.96 415.52 L479.35 414.43 L482.74 413.39 L486.12 428.28 L489.51 426.08 L492.89 424.39 L496.28 422.97 L499.67 421.71 L503.05 420.58 L506.44 419.53 L509.83 418.56 L513.21 417.65 L516.6 416.79" stroke="#EDB120" stroke-width="1.45"/>
<path d="M316.8 432.73 L320.19 432.3M350.66 430.65 L354.05 429.42 L357.44 428.48 L360.82 427.69 L364.21 427 L367.6 426.37 L370.98 425.79 L374.37 425.25 L377.76 424.74M384.53 428.11 L387.92 425.84 L391.3 424.09 L394.69 422.62 L398.07 421.32 L401.46 420.15 L404.85 419.07 L408.23 418.07 L411.62 417.13 L415.01 416.24 L418.39 428.31 L421.78 426.12 L425.17 424.44 L428.55 423.03 L431.94 421.78 L435.33 420.65 L438.71 419.61 L442.1 418.65 L445.48 417.74 L448.87 416.88 L452.26 429.34 L455.64 427.57 L459.03 426.22 L462.42 425.08 L465.8 424.07 L469.19 423.16 L472.58 422.33 L475.96 421.55 L479.35 420.82 L482.74 420.13 L486.12 430.06 L489.51 428.59 L492.89 427.46 L496.28 426.51 L499.67 425.68 L503.05 424.92 L506.44 424.22 L509.83 423.58 L513.21 422.97 L516.6 422.39" stroke="#7E2F8E" stroke-width="1.45"/>
<path d="M350.66 431.38 L354.05 430.47 L357.44 429.76 L360.82 429.17 L364.21 428.65M384.53 429.48 L387.92 427.78 L391.3 426.47 L394.69 425.36 L398.07 424.39 L401.46 423.51 L404.85 422.71 L408.23 421.95 L411.62 421.25 L415.01 420.58 L418.39 429.63 L421.78 427.99 L425.17 426.73 L428.55 425.67 L431.94 424.73 L435.33 423.89 L438.71 423.11 L442.1 422.38 L445.48 421.7 L448.87 421.06 L452.26 430.4 L455.64 429.08 L459.03 428.07 L462.42 427.21 L465.8 426.45 L469.19 425.77 L472.58 425.15 L475.96 424.56 L479.35 424.01 L482.74 423.49 L486.12 430.94 L489.51 429.84 L492.89 429 L496.28 428.28 L499.67 427.66 L503.05 427.09 L506.44 426.57 L509.83 426.08 L513.21 425.63 L516.6 425.19" stroke="#77AC30" stroke-width="1.45"/>
<path d="M350.66 431.83 L354.05 431.09M384.53 430.31 L387.92 428.94 L391.3 427.89 L394.69 427.01 L398.07 426.23 L401.46 425.53 L404.85 424.88M418.39 430.43 L421.78 429.11 L425.17 428.11 L428.55 427.26 L431.94 426.51 L435.33 425.83 L438.71 425.21 L442.1 424.63 L445.48 424.08 L448.87 423.57 L452.26 431.04 L455.64 429.98 L459.03 429.17 L462.42 428.49 L465.8 427.88 L469.19 427.34 L472.58 426.84 L475.96 426.37 L479.35 425.93 L482.74 425.52 L486.12 431.47 L489.51 430.59 L492.89 429.92 L496.28 429.35 L499.67 428.85 L503.05 428.39 L506.44 427.97 L509.83 427.59 L513.21 427.22 L516.6 426.88" stroke="#4DBEEE" stroke-width="1.45"/>
<path d="M384.53 430.85 L387.92 429.72 L391.3 428.85 L394.69 428.11M418.39 430.96 L421.78 429.86 L425.17 429.02 L428.55 428.31 L431.94 427.69 L435.33 427.12 L438.71 426.61 L442.1 426.12M452.26 431.47 L455.64 430.59 L459.03 429.91 L462.42 429.34 L465.8 428.84 L469.19 428.38 L472.58 427.96 L475.96 427.57 L479.35 427.21 L482.74 426.86 L486.12 431.83 L489.51 431.09 L492.89 430.53 L496.28 430.06 L499.67 429.64 L503.05 429.26 L506.44 428.91 L509.83 428.59 L513.21 428.28 L516.6 428" stroke="#A2142F" stroke-width="1.45"/>
</g>
<path d="M316.8 258.7 V434.2" stroke="#ababab" stroke-width="1.5" fill="none"/>
<path d="M316.8 433.6 H516.6" stroke="#ababab" stroke-width="1.4" fill="none"/>
<path d="M316.8 259.3 H516.6" stroke="#ababab" stroke-width="1.4" fill="none"/>
<path d="M320.19 433.6V431.9M323.57 433.6V431.9M326.96 433.6V431.9M330.35 433.6V431.9M333.73 433.6V431.9M337.12 433.6V431.9M340.51 433.6V431.9M343.89 433.6V431.9M347.28 433.6V431.9M350.66 433.6V431.9M354.05 433.6V431.9M357.44 433.6V431.9M360.82 433.6V431.9M364.21 433.6V431.9M367.6 433.6V431.9M370.98 433.6V431.9M374.37 433.6V431.9M377.76 433.6V431.9M381.14 433.6V431.9M384.53 433.6V431.9M387.92 433.6V431.9M391.3 433.6V431.9M394.69 433.6V431.9M398.07 433.6V431.9M401.46 433.6V431.9M404.85 433.6V431.9M408.23 433.6V431.9M411.62 433.6V431.9M415.01 433.6V431.9M418.39 433.6V431.9M421.78 433.6V431.9M425.17 433.6V431.9M428.55 433.6V431.9M431.94 433.6V431.9M435.33 433.6V431.9M438.71 433.6V431.9M442.1 433.6V431.9M445.48 433.6V431.9M448.87 433.6V431.9M452.26 433.6V431.9M455.64 433.6V431.9M459.03 433.6V431.9M462.42 433.6V431.9M465.8 433.6V431.9M469.19 433.6V431.9M472.58 433.6V431.9M475.96 433.6V431.9M479.35 433.6V431.9M482.74 433.6V431.9M486.12 433.6V431.9M489.51 433.6V431.9M492.89 433.6V431.9M496.28 433.6V431.9M499.67 433.6V431.9M503.05 433.6V431.9M506.44 433.6V431.9M509.83 433.6V431.9M513.21 433.6V431.9M516.6 433.6V431.9" stroke="#333" stroke-width="1.1" fill="none"/>
<path d="M347.28 259.3V264.9M381.14 259.3V264.9M415.01 259.3V264.9M448.87 259.3V264.9M482.74 259.3V264.9" stroke="#444" stroke-width="1.3" fill="none"/>
<path d="M316.8 404.55H318.6M316.8 375.5H318.6M316.8 346.45H318.6M316.8 317.4H318.6M316.8 288.35H318.6" stroke="#555" stroke-width="1.2" fill="none"/>
<text x="310.8" y="439.6" text-anchor="end" font-size="13.6">0</text>
<text x="310.8" y="410.55" text-anchor="end" font-size="13.6">1000</text>
<text x="310.8" y="381.5" text-anchor="end" font-size="13.6">2000</text>
<text x="310.8" y="352.45" text-anchor="end" font-size="13.6">3000</text>
<text x="310.8" y="323.4" text-anchor="end" font-size="13.6">4000</text>
<text x="310.8" y="294.35" text-anchor="end" font-size="13.6">5000</text>
<text x="330.35" y="452.1" text-anchor="middle" font-size="13.8">5</text>
<text x="347.28" y="452.1" text-anchor="middle" font-size="13.8">10</text>
<text x="364.21" y="452.1" text-anchor="middle" font-size="13.8">5</text>
<text x="381.14" y="452.1" text-anchor="middle" font-size="13.8">10</text>
<text x="398.07" y="452.1" text-anchor="middle" font-size="13.8">5</text>
<text x="415.01" y="452.1" text-anchor="middle" font-size="13.8">10</text>
<text x="431.94" y="452.1" text-anchor="middle" font-size="13.8">5</text>
<text x="448.87" y="452.1" text-anchor="middle" font-size="13.8">10</text>
<text x="465.8" y="452.1" text-anchor="middle" font-size="13.8">5</text>
<text x="482.74" y="452.1" text-anchor="middle" font-size="13.8">10</text>
<text x="499.67" y="452.1" text-anchor="middle" font-size="13.8">5</text>
<text x="516.6" y="452.1" text-anchor="middle" font-size="13.8">10</text>
<text x="333.4" y="256.9" text-anchor="middle" font-size="14">1</text>
<text x="367.18" y="256.9" text-anchor="middle" font-size="14">2</text>
<text x="400.96" y="256.9" text-anchor="middle" font-size="14">3</text>
<text x="434.74" y="256.9" text-anchor="middle" font-size="14">4</text>
<text x="468.52" y="256.9" text-anchor="middle" font-size="14">5</text>
<text x="502.3" y="256.9" text-anchor="middle" font-size="14">6</text>
<text x="268.8" y="255.8" font-size="14"><tspan font-style="italic">S</tspan><tspan font-style="italic" font-size="10" dy="6.4">x</tspan><tspan dy="-6.4" dx="0.3">(%)</tspan></text>
<path d="M302 247.8L313.1 251.8L302 256L304.7 251.8Z" fill="#000"/>
<text transform="translate(277 346.45) rotate(-90)" text-anchor="middle" font-size="14.8">Inlet spacing (m)</text>
<text x="400.7" y="468.9" font-size="14.3"><tspan font-style="italic">S</tspan><tspan font-style="italic" font-size="12" dy="7.9">L</tspan><tspan dy="-7.9" dx="0.1" font-size="14.6">(%)</tspan></text>
<text x="330.3" y="285.2" font-size="15.8">4</text>
<text x="330.3" y="304" font-size="16.3">-Lane</text>
<path d="M450.8 266.8H484.6" stroke="#0072BD" stroke-width="2.0"/>
<text x="490.8" y="271" font-size="11.55"><tspan font-style="italic">I</tspan>=25 mm/h</text>
<path d="M450.8 280.52H484.6" stroke="#D95319" stroke-width="1.4"/>
<text x="490.8" y="284.72" font-size="11.55"><tspan font-style="italic">I</tspan>=50 mm/h</text>
<path d="M450.8 294.24H484.6" stroke="#EDB120" stroke-width="1.4"/>
<text x="490.8" y="298.44" font-size="11.55"><tspan font-style="italic">I</tspan>=100 mm/h</text>
<path d="M450.8 307.96H484.6" stroke="#7E2F8E" stroke-width="1.4"/>
<text x="490.8" y="312.16" font-size="11.55"><tspan font-style="italic">I</tspan>=150 mm/h</text>
<path d="M450.8 321.68H484.6" stroke="#77AC30" stroke-width="1.4"/>
<text x="490.8" y="325.88" font-size="11.55"><tspan font-style="italic">I</tspan>=200 mm/h</text>
<path d="M450.8 335.4H484.6" stroke="#4DBEEE" stroke-width="1.4"/>
<text x="490.8" y="339.6" font-size="11.55"><tspan font-style="italic">I</tspan>=250 mm/h</text>
<path d="M450.8 349.12H484.6" stroke="#A2142F" stroke-width="1.4"/>
<text x="490.8" y="353.32" font-size="11.55"><tspan font-style="italic">I</tspan>=300 mm/h</text>
</svg>
</body></html>
